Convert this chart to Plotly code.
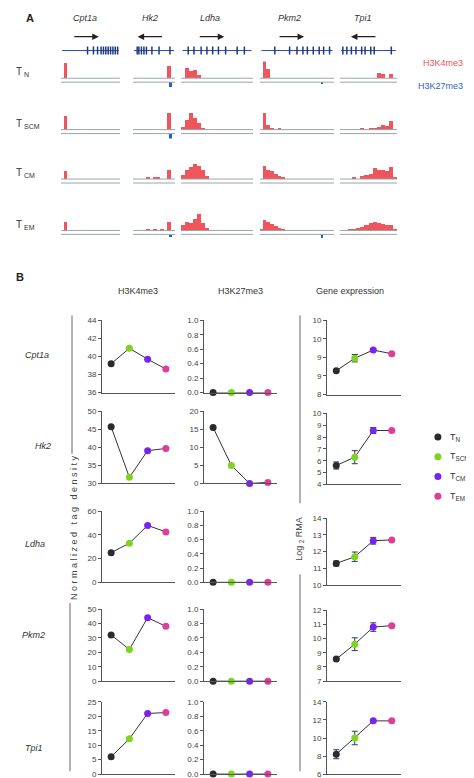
import plotly.graph_objects as go

W, H = 474, 778
def X(p): return p / W
def Y(p): return 1 - p / H

cells = ["T<sub>N</sub>", "T<sub>SCM</sub>", "T<sub>CM</sub>", "T<sub>EM</sub>"]
colors = ["#2b2b2b", "#7ed321", "#7a22ee", "#e03c9c"]
genes = ["Cpt1a", "Hk2", "Ldha", "Pkm2", "Tpi1"]

# ---- Panel B data ----
k4 = {"Cpt1a": [39.2, 40.9, 39.7, 38.6], "Hk2": [45.7, 31.7, 39.1, 39.7],
      "Ldha": [25, 33, 48, 42.5], "Pkm2": [32, 22, 44, 38], "Tpi1": [6, 12.2, 21, 21.3]}
k27 = {"Cpt1a": [0, 0, 0, 0], "Hk2": [15.5, 5, 0, 0.3], "Ldha": [0, 0, 0, 0],
       "Pkm2": [0, 0, 0, 0], "Tpi1": [0, 0, 0, 0]}
expr = {"Cpt1a": [8.64, 8.98, 9.2, 9.1], "Hk2": [5.6, 6.3, 8.55, 8.55],
        "Ldha": [11.3, 11.7, 12.65, 12.7], "Pkm2": [8.55, 9.6, 10.8, 10.9],
        "Tpi1": [8.2, 10.0, 11.9, 11.9]}
expr_err = {"Cpt1a": [0.02, 0.1, 0.03, 0.03], "Hk2": [0.3, 0.55, 0.25, 0.05],
            "Ldha": [0.15, 0.28, 0.2, 0.03], "Pkm2": [0.05, 0.45, 0.3, 0.05],
            "Tpi1": [0.5, 0.75, 0.1, 0.1]}
k4_ranges = {"Cpt1a": (36, 44, 2), "Hk2": (30, 50, 5), "Ldha": (0, 60, 20), "Pkm2": (0, 50, 10), "Tpi1": (0, 25, 5)}
k27_ranges = {"Cpt1a": (0, 1, 0.2), "Hk2": (0, 20, 5), "Ldha": (0, 1, 0.2), "Pkm2": (0, 1, 0.2), "Tpi1": (0, 1, 0.2)}
ex_ranges = {"Cpt1a": (8, 10, 0.5), "Hk2": (4, 10, 1), "Ldha": (10, 14, 1), "Pkm2": (7, 12, 1), "Tpi1": (6, 14, 2)}
cpt1a_expr_ticktext = ["8", "9", "9", "10", "10"]

# ---- Panel A data (track bins, signal heights) ----
k4_tracks = {
    "Cpt1a": [[0, 15], [0, 14], [0, 8], [0, 9]],
    "Hk2": [[0]*10 + [12], [0]*10 + [17], [0, 0, 0, 0, 2, 0, 2, 1, 0, 0, 9], [0, 0, 0, 0, 2, 0, 2, 0, 1, 0, 9]],
    "Ldha": [[0, 10, 7, 8, 3], [3, 10, 17, 12, 7, 2], [4, 9, 12, 15, 13, 9, 3], [6, 9, 8, 12, 17, 8, 3]],
    "Pkm2": [[0, 17, 9], [0, 17, 5, 2, 0, 2], [0, 13, 9, 8, 5, 3, 1], [1, 11, 9, 7, 5, 3, 1]],
    "Tpi1": [[0]*9 + [5, 4, 0, 4], [0, 0, 0, 0, 0, 2, 0, 1, 2, 3, 5, 4, 9],
             [0, 0, 0, 1, 0, 3, 4, 5, 11, 9, 9, 8, 12, 1], [0, 0, 1, 2, 3, 4, 6, 8, 9, 8, 7, 6, 6, 2]],
}
k27_tracks = {"Hk2": [[0]*10 + [6], [0]*10 + [5], [0], [0]*10 + [2]],
              "Pkm2": [[0]*16 + [1], [0], [0], [0]*16 + [3]]}
track_bins = {"Cpt1a": 20, "Hk2": 12, "Ldha": 18, "Pkm2": 20, "Tpi1": 14}
exons = {"Cpt1a": [0.45, 0.55, 0.62, 0.68, 0.72, 0.76, 0.8, 0.84, 0.88, 0.92, 0.96],
         "Hk2": [0.1, 0.14, 0.2, 0.26, 0.32, 0.45, 0.62, 0.88],
         "Ldha": [0.1, 0.18, 0.28, 0.36, 0.44, 0.52, 0.62, 0.78, 0.88],
         "Pkm2": [0.2, 0.4, 0.5, 0.58, 0.64, 0.72, 0.8, 0.86, 0.94],
         "Tpi1": [0.05, 0.12, 0.2, 0.28, 0.38, 0.44, 0.54, 0.6, 0.9]}
strand = {"Cpt1a": 1, "Hk2": -1, "Ldha": 1, "Pkm2": 1, "Tpi1": -1}

fig = go.Figure()
FONT = "Liberation Sans, Arial"
n = [0]
def new_axes(xd, yd, xr, yr, **yk):
    n[0] += 1
    k = n[0]
    fig.layout["xaxis%d" % k] = dict(domain=xd, range=xr, anchor="y%d" % k, showgrid=False,
                                     zeroline=False, showticklabels=False, ticks="")
    ya = dict(domain=yd, range=yr, anchor="x%d" % k, showgrid=False, zeroline=False,
              showticklabels=False, ticks="")
    ya.update(yk)
    fig.layout["yaxis%d" % k] = ya
    return "x%d" % k, "y%d" % k

def text(x, y, t, size=9, color="#333", xanchor="center", angle=0):
    fig.add_annotation(x=x, y=y, xref="paper", yref="paper", text=t, showarrow=False,
                       xanchor=xanchor, yanchor="middle", textangle=angle,
                       font=dict(size=size, color=color, family=FONT))

# ---- Panel A ----
gx = {"Cpt1a": (53, 112), "Hk2": (125, 167), "Ldha": (173, 245), "Pkm2": (252, 326), "Tpi1": (332, 389)}
row_base = [67, 119, 169, 221]
for g in genes:
    x0, x1 = gx[g]
    xa, ya = new_axes([X(x0), X(x1)], [Y(43), Y(35)], [0, 1], [-1, 1])
    fig.add_trace(go.Scatter(x=[0.02, 0.98], y=[0, 0], mode="lines", line=dict(color="#2a4da8", width=1),
                             xaxis=xa, yaxis=ya, showlegend=False, hoverinfo="skip"))
    fig.add_trace(go.Scatter(x=exons[g], y=[0]*len(exons[g]), mode="markers",
                             marker=dict(symbol="line-ns", size=7, line=dict(width=1.5, color="#1f3a80")),
                             xaxis=xa, yaxis=ya, showlegend=False, hoverinfo="skip"))
    text(X(x0 + (x1 - x0) * 0.4), Y(6), "<i>%s</i>" % g)
    c = x0 + (x1 - x0) * 0.42
    head = c + 13 * strand[g]
    fig.add_annotation(x=X(head), y=Y(25), ax=-26 * strand[g], ay=0, xref="paper", yref="paper",
                       axref="pixel", ayref="pixel", showarrow=True, arrowhead=2, arrowsize=1,
                       arrowwidth=1.3, arrowcolor="#222", text="")
    for r in range(4):
        b = row_base[r]
        nb = track_bins[g]
        xa, ya = new_axes([X(x0), X(x1)], [Y(b + 9), Y(b - 17)], [-0.5, nb - 0.5], [-9, 17])
        vals = k4_tracks[g][r]
        fig.add_trace(go.Bar(x=list(range(len(vals))), y=vals, marker=dict(color="#f0545c", line_width=0),
                             width=1.0, xaxis=xa, yaxis=ya, showlegend=False, hoverinfo="skip"))
        for yy in (0, -4):
            fig.add_trace(go.Scatter(x=[-0.5, nb - 0.5], y=[yy, yy], mode="lines", line=dict(color="#9aa6a6", width=1),
                                     xaxis=xa, yaxis=ya, showlegend=False, hoverinfo="skip"))
        if g in k27_tracks:
            v2 = k27_tracks[g][r]
            fig.add_trace(go.Bar(x=list(range(len(v2))), y=[-v for v in v2], base=-4.5,
                                 marker=dict(color="#1f5fd6", line_width=0), width=0.8,
                                 xaxis=xa, yaxis=ya, showlegend=False, hoverinfo="skip"))
for lab, yb in zip(cells, row_base):
    text(X(6), Y(yb - 6), lab.replace("<sub>", "<sub> "), size=10, xanchor="left")
text(X(457), Y(52), "H3K4me3", color="#f0545c", xanchor="right")
text(X(457), Y(75), "H3K27me3", color="#2a5fd0", xanchor="right")
text(X(22), Y(6), "<b>A</b>", size=11, color="#222")

# ---- Panel B ----
colx = [(94, 167), (196, 269), (319, 393)]
rows_y = {"Cpt1a": [(312, 385), (312, 385), (312, 387)], "Hk2": [(404, 477), (404, 477), (406, 478)],
          "Ldha": [(505, 577), (505, 577), (512, 580)], "Pkm2": [(604, 677), (604, 677), (605, 677)],
          "Tpi1": [(698, 771), (698, 771), (698, 771)]}
label_pos = {"Cpt1a": (15, 347), "Hk2": (25, 439), "Ldha": (15, 538), "Pkm2": (12, 630), "Tpi1": (15, 745)}
xs = [1, 2, 3, 4]
for g in genes:
    for ci, (data, rng) in enumerate([(k4, k4_ranges), (k27, k27_ranges), (expr, ex_ranges)]):
        lo, hi, dt = rng[g]
        t, b = rows_y[g][ci]
        x0, x1 = colx[ci]
        yk = dict(showline=True, linecolor="#555", linewidth=1, ticks="outside", ticklen=3,
                  tickcolor="#555", showticklabels=True, tick0=lo, dtick=dt,
                  tickfont=dict(size=8, color="#444", family=FONT))
        if ci == 1 and dt < 1:
            yk["tickformat"] = ".1f"
        if ci == 2 and g == "Cpt1a":
            yk.update(tickmode="array", tickvals=[8, 8.5, 9, 9.5, 10], ticktext=cpt1a_expr_ticktext)
        xa, ya = new_axes([X(x0), X(x1)], [Y(b), Y(t)], [0.5, 4.5], [lo, hi], **yk)
        fig.layout[xa.replace("x", "xaxis")].update(showline=True, linecolor="#555", linewidth=1)
        ev = None
        if ci == 2:
            ev = dict(type="data", array=expr_err[g], color="#2a3a6a", thickness=1, width=3)
        fig.add_trace(go.Scatter(x=xs, y=data[g], mode="lines", line=dict(color="#333", width=1),
                                 xaxis=xa, yaxis=ya, showlegend=False, hoverinfo="skip", cliponaxis=False))
        fig.add_trace(go.Scatter(x=xs, y=data[g], mode="markers", error_y=ev,
                                 marker=dict(color=colors, size=7), xaxis=xa, yaxis=ya,
                                 showlegend=False, cliponaxis=False))
    lx, ly = label_pos[g]
    text(X(lx), Y(ly), "<i>%s</i>" % g, xanchor="left")

# manual legend
xa, ya = new_axes([X(425), X(474)], [Y(500), Y(420)], [0, 1], [4, 0])
fig.add_trace(go.Scatter(x=[0.1] * 4, y=[0.5, 1.5, 2.5, 3.5], mode="markers",
                         marker=dict(color=colors, size=7), xaxis=xa, yaxis=ya,
                         showlegend=False, hoverinfo="skip"))
for i, lab in enumerate(cells):
    text(X(440), Y(420 + 20 * (i + 0.5)), lab, size=9, xanchor="left")

text(X(130), Y(282), "H3K4me3")
text(X(232), Y(282), "H3K27me3")
text(X(342), Y(282), "Gene expression")
text(X(12), Y(268), "<b>B</b>", size=11, color="#222")
text(X(66), Y(522), "N o r m a l i z e d   t a g   d e n s i t y", color="#444", angle=-90)
text(X(292), Y(533), "Log <sub>2</sub> RMA", color="#444", angle=-90)
for (xx, y0, y1) in [(64, 307, 447), (62, 598, 768), (292, 307, 497), (292, 569, 768)]:
    fig.add_shape(type="line", xref="paper", yref="paper", x0=X(xx), x1=X(xx), y0=Y(y0), y1=Y(y1),
                  line=dict(color="#666", width=1))

fig.update_layout(width=W, height=H, margin=dict(l=0, r=0, t=0, b=0), paper_bgcolor="white",
                  plot_bgcolor="rgba(0,0,0,0)", bargap=0, showlegend=False)
fig.write_html("out.html")
